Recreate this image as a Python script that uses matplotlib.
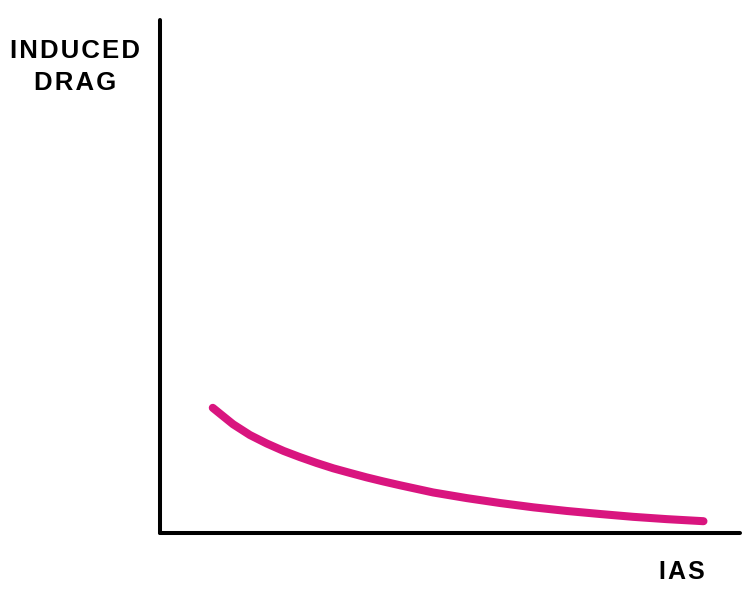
import numpy as np
import matplotlib
matplotlib.use('Agg')
import matplotlib.pyplot as plt

# кривая индуктивного сопротивления
ias = [0.91, 1.03, 1.26, 1.55, 1.84, 2.13, 2.41, 2.70, 2.99, 3.28, 3.56,
       3.85, 4.14, 4.71, 5.29, 5.86, 6.44, 7.01, 7.59, 8.16, 8.74, 9.37]
drag = [2.44, 2.33, 2.12, 1.91, 1.745, 1.60, 1.48, 1.365, 1.26, 1.17, 1.085,
        1.005, 0.93, 0.79, 0.68, 0.585, 0.50, 0.43, 0.37, 0.315, 0.27, 0.23]

sp = '\u200a'
y_label = sp.join('INDUCED') + '\n' + sp.join('DRAG')
x_label = sp.join('IAS')

plt.rcParams['font.family'] = ['Liberation Sans', 'DejaVu Sans']

fig = plt.figure(figsize=(7.5, 5.92), dpi=100)
ax = fig.add_axes([160 / 750, 59 / 592, 580 / 750, 513 / 592])

ax.plot(ias, drag, color='#d9157f', linewidth=5.8, solid_capstyle='round',
        solid_joinstyle='round')

ax.set_xlim(0, 10)
ax.set_ylim(0, 10)
ax.set_xticks([])
ax.set_yticks([])
for side in ['top', 'right']:
    ax.spines[side].set_visible(False)
for side in ['left', 'bottom']:
    ax.spines[side].set_linewidth(2.9)
    ax.spines[side].set_capstyle('round')

fig.text(75 / 750, 1 - 67 / 592, y_label, ha='center', va='center',
         fontsize=18.5, fontweight='bold', linespacing=1.4)
fig.text(682 / 750, 1 - 572 / 592, x_label, ha='center', va='center',
         fontsize=18, fontweight='bold')

plt.savefig('out.png', dpi=100)
